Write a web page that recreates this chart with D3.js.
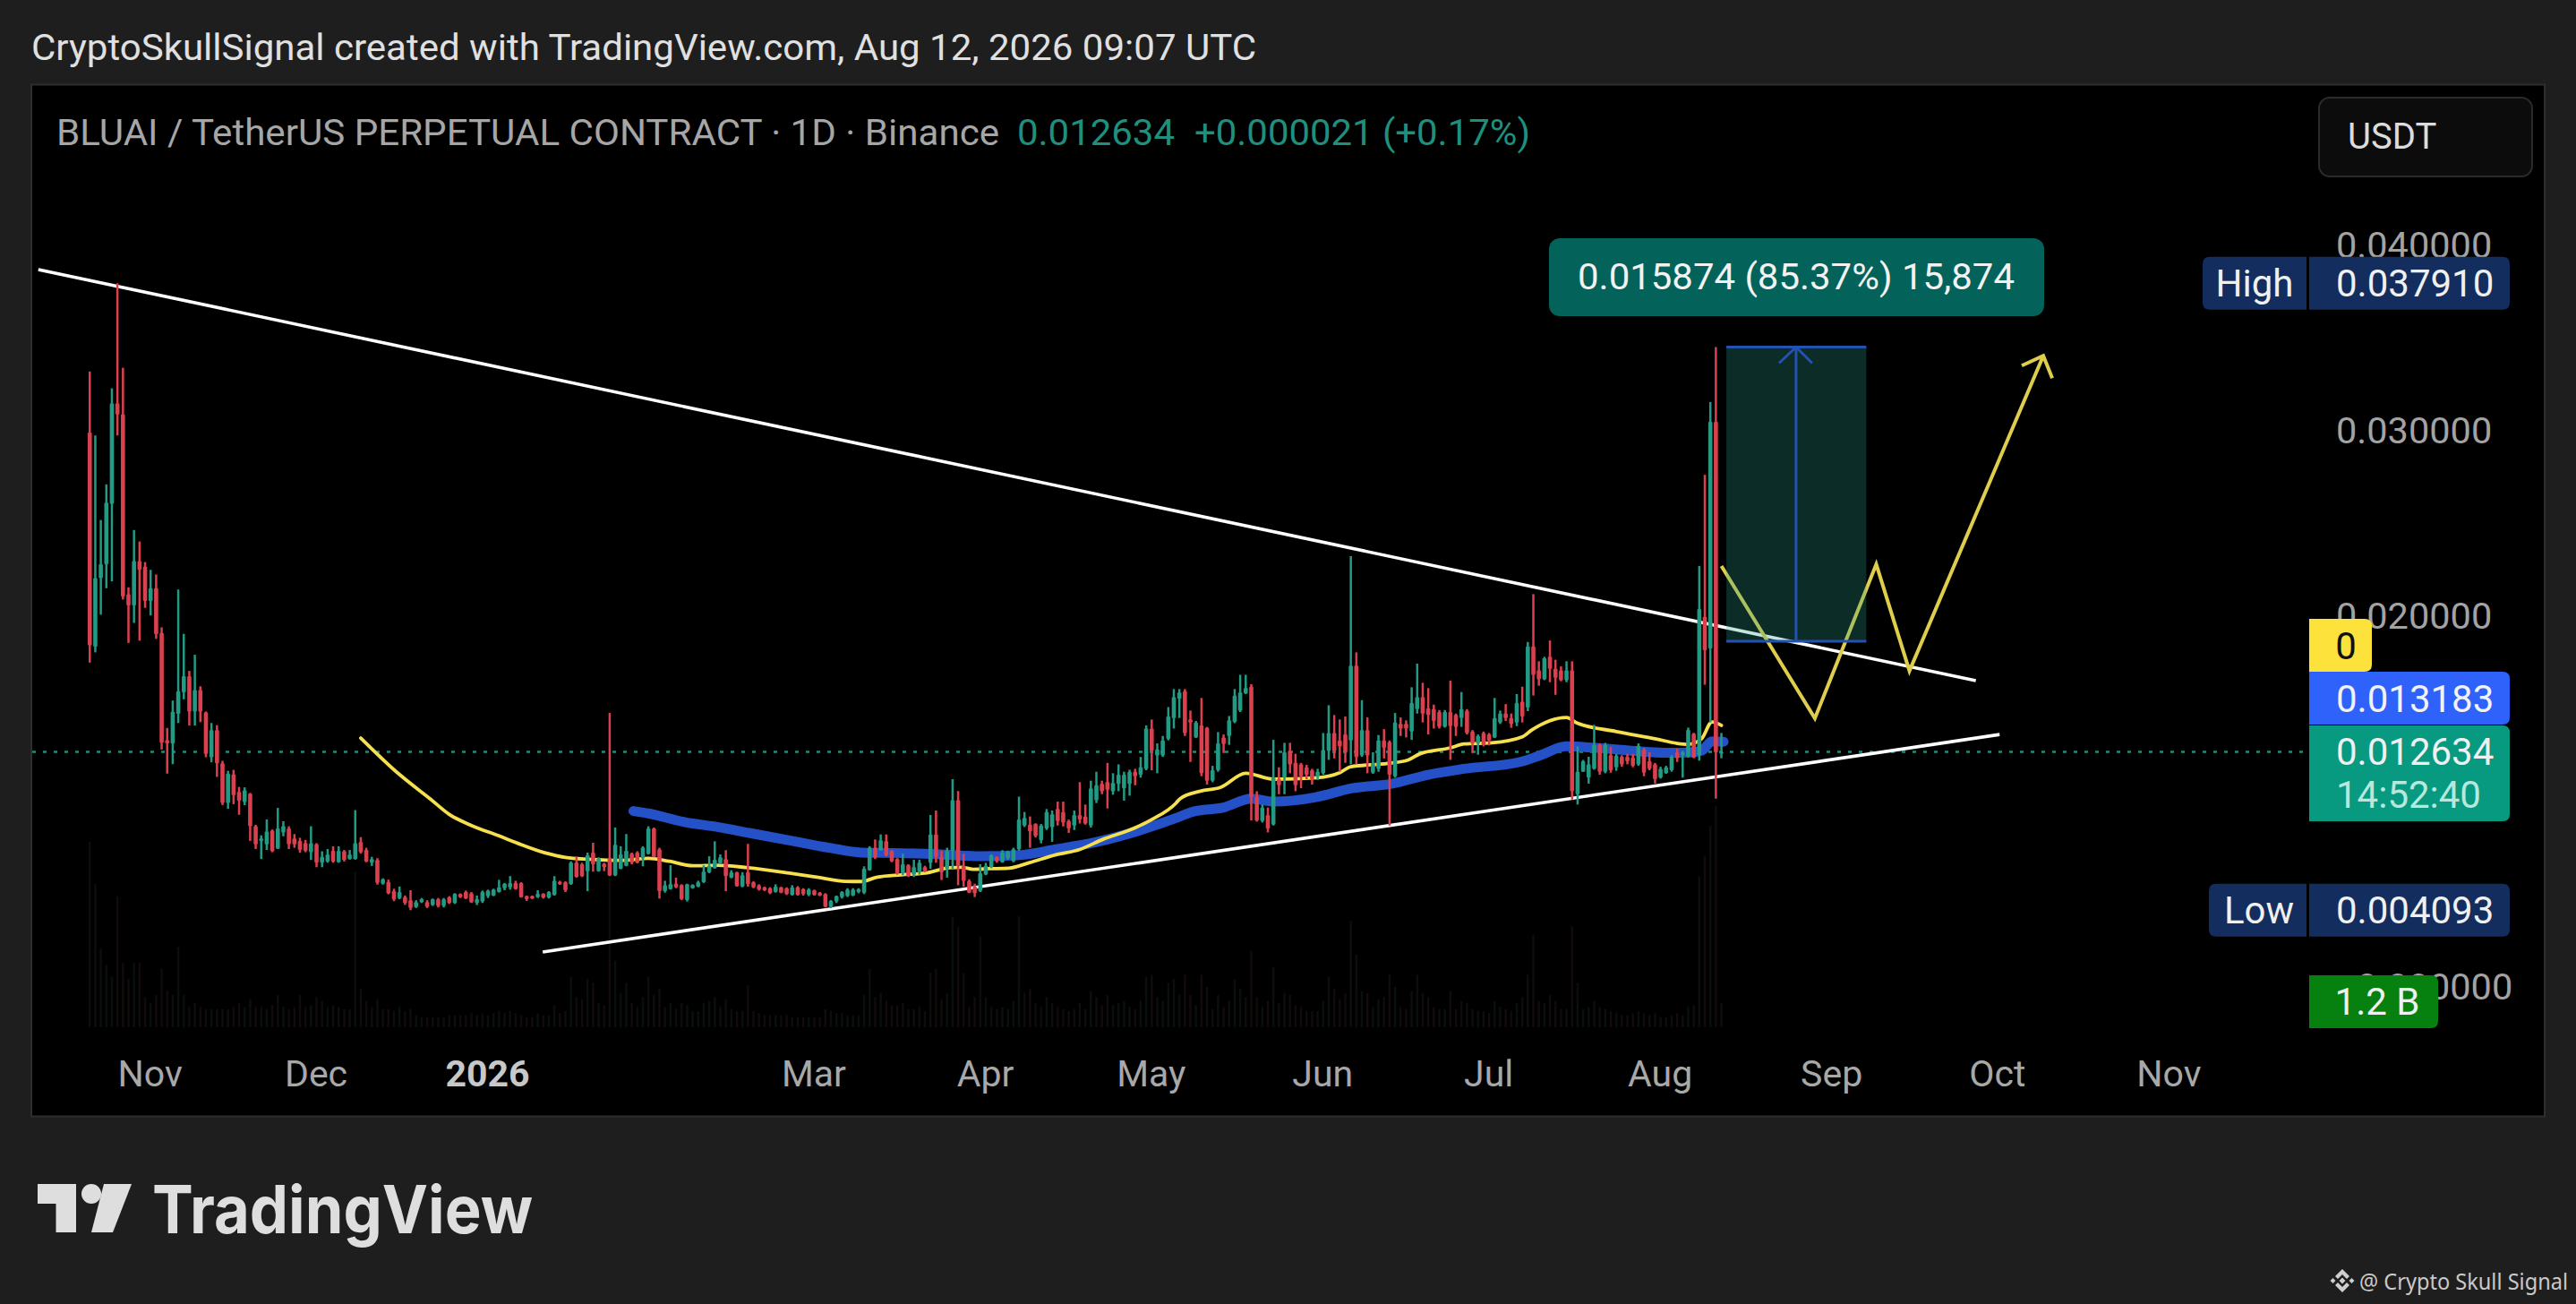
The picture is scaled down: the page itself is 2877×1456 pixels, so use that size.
<!DOCTYPE html>
<html><head><meta charset="utf-8">
<script src="https://cdn.jsdelivr.net/npm/d3@7"></script>
<style>html,body{margin:0;padding:0;background:#1e1e1e;overflow:hidden}svg{display:block}text{font-family:Roboto,sans-serif}</style>
</head><body><svg id="c" width="2877" height="1456"></svg>
<script>
// Daily candles from 2025-10-21, prices in thousandths of USDT
const firstDay = Date.UTC(2025, 9, 21);
const open = [29.85,18.31,22.01,22.75,26.02,31.42,30.83,21.14,20.53,22.92,
22.62,20.77,21.46,19.05,13.26,13.09,14.69,15.84,16.71,14.81,
15.97,14.76,12.34,13.80,12.02,9.88,11.41,10.47,9.93,10.37,
8.62,7.83,7.64,8.38,7.42,8.28,8.50,7.96,7.83,7.71,
7.22,7.64,6.65,6.72,7.29,6.68,7.27,6.85,6.85,7.76,
7.34,6.65,6.80,5.52,5.62,5.12,4.73,4.80,4.63,4.26,
4.53,4.53,4.37,4.69,4.32,4.80,4.48,4.96,5.07,5.0,
4.48,4.56,4.85,4.88,5.07,5.28,5.33,5.56,5.56,4.85,
4.85,4.8,4.98,4.77,4.91,5.62,5.6,5.49,6.65,6.57,
6.2,7.2,6.2,6.6,6.9,5.97,6.33,6.49,7.14,7.2,
6.9,7.14,8.5,7.38,5.12,5.23,5.52,5.46,4.64,5.28,
5.36,5.6,6.14,6.36,6.62,6.85,5.85,6.14,5.36,6.14,
5.6,5.44,5.33,5.28,5.07,5.33,5.28,4.91,5.33,5.23,
4.91,5.17,5.04,4.96,4.27,4.56,4.8,4.85,4.88,5.07,
5.04,6.25,7.46,7.33,7.81,7.3,6.85,6.09,6.52,6.01,
6.17,6.41,6.65,8.18,6.97,6.33,7.3,10.03,6.49,5.68,
5.36,5.12,6.01,6.41,6.97,6.68,6.9,6.73,7.38,8.66,
8.71,8.74,7.86,8.5,8.58,9.55,9.39,8.9,8.66,9.22,
9.14,8.66,10.03,10.91,11.0,10.51,10.91,10.67,10.91,11.56,
11.4,11.72,13.89,12.44,12.44,13.33,14.46,15.5,15.91,14.38,
13.41,14.06,13.93,11.08,11.64,13.41,13.49,14.25,14.86,15.79,
16.15,10.19,8.9,9.22,8.71,11.16,11.24,12.69,12.04,11.96,
11.8,11.64,11.32,11.48,12.69,13.65,13.25,13.57,13.25,17.28,
12.44,13.81,11.51,11.72,13.25,13.17,11.32,14.14,14.14,13.73,
14.94,15.58,14.97,14.94,14.78,13.98,14.78,14.62,14.46,14.86,
13.73,13.09,13.65,13.57,13.41,14.22,14.7,14.46,14.22,15.34,
15.02,18.32,17.03,16.55,17.76,17.11,17.03,16.5,17.03,10.35,
11.56,11.24,11.72,13.01,11.56,12.45,11.8,12.37,12.37,12.32,
11.96,12.77,12.13,11.96,11.24,11.48,11.64,12.61,12.45,12.37,
13.61,12.45,19.92,18.21,30.43,12.61];
const high = [33.15,29.70,25.14,27.06,32.24,37.91,33.35,21.51,24.60,23.98,
22.87,22.45,22.20,19.35,13.92,15.40,21.39,19.0,17.0,17.87,
16.17,14.81,14.19,14.07,12.15,11.61,11.66,10.74,10.72,10.42,
8.70,8.13,8.99,8.45,9.61,8.89,8.62,8.20,8.0,7.88,
8.62,7.71,7.27,7.39,7.54,7.54,7.34,7.34,9.49,8.03,
7.46,6.97,6.90,5.81,5.74,5.25,5.37,4.88,5.17,4.63,
4.75,4.63,4.72,4.75,4.75,4.85,5.01,5.0,5.15,5.07,
4.88,5.15,5.2,5.25,5.73,5.56,5.93,5.68,5.6,4.88,
4.88,5.17,5.01,5.12,5.93,5.68,5.65,6.73,6.97,6.65,
7.2,7.73,6.94,6.65,14.73,8.55,7.54,8.2,7.2,7.27,
7.54,8.62,8.55,7.46,5.68,6.52,5.85,5.49,5.52,5.49,
5.68,6.52,7.0,7.81,7.1,7.33,6.25,6.17,6.14,7.67,
5.65,5.49,5.36,5.33,5.49,5.36,5.33,5.44,5.39,5.28,
5.28,5.2,5.07,5.01,4.64,4.88,5.12,5.28,5.28,5.28,
6.46,7.54,7.91,8.18,8.18,7.33,6.9,7.14,6.57,6.81,
6.81,6.49,9.23,9.47,7.3,7.46,11.16,10.52,7.14,5.76,
5.52,6.57,6.65,7.1,7.0,7.33,7.3,7.46,10.22,9.39,
9.15,8.78,8.74,9.55,9.47,9.95,9.95,8.98,9.47,11.0,
9.79,11.08,11.56,11.08,12.04,11.48,11.96,11.56,11.67,11.72,
12.36,14.06,14.38,13.09,13.49,15.05,16.02,16.02,16.02,14.86,
14.3,15.54,13.98,11.88,13.7,13.57,14.57,16.02,16.79,16.79,
16.28,10.51,9.79,9.63,13.28,11.8,13.12,13.12,12.53,12.04,
11.93,11.72,11.72,13.65,15.15,14.62,14.38,14.54,23.19,18.0,
15.42,14.49,12.61,13.54,13.86,13.25,14.73,14.49,14.33,16.12,
17.39,16.36,16.07,15.18,14.89,14.89,16.47,14.7,15.86,14.94,
13.81,13.57,13.73,13.65,15.54,14.86,15.21,14.7,15.75,16.15,
18.56,21.14,17.52,17.76,18.64,17.6,17.24,17.52,17.52,12.93,
12.2,12.37,14.09,13.09,13.12,12.9,12.53,12.45,12.53,12.53,
13.09,12.85,12.61,12.04,11.83,11.88,12.45,12.8,12.69,13.94,
13.66,22.66,27.58,31.5,34.47,13.65];
const low = [17.45,18.0,20.03,21.46,21.83,29.70,20.85,18.51,19.59,18.63,
20.40,19.99,18.73,12.76,11.46,11.97,14.19,15.47,14.05,14.05,
14.24,12.34,12.07,11.28,9.76,9.56,9.81,9.24,9.76,7.83,
7.39,6.85,7.34,7.22,7.39,8.08,7.39,7.46,7.19,7.22,
6.80,6.41,6.41,6.65,6.65,6.65,6.72,6.82,6.82,7.15,
6.68,6.48,5.47,5.47,4.95,4.58,4.68,4.38,4.09,4.21,
4.48,4.21,4.32,4.24,4.24,4.43,4.43,4.75,4.69,4.48,
4.37,4.48,4.75,4.85,5.04,5.17,5.2,5.2,4.77,4.59,
4.69,4.75,4.72,4.72,4.88,5.46,5.07,5.46,5.85,5.88,
5.12,6.17,6.17,6.2,5.93,5.93,6.3,6.46,6.57,6.62,
6.46,7.1,6.94,4.72,5.04,5.2,5.28,4.64,4.56,5.25,
5.33,5.56,6.09,6.33,6.57,5.12,5.81,5.36,5.33,5.36,
5.28,5.15,5.12,4.96,5.04,5.01,4.91,4.88,4.88,4.88,
4.85,4.88,4.85,4.24,4.2,4.48,4.72,4.8,4.85,5.0,
4.96,6.22,6.85,7.3,7.0,6.68,6.01,5.98,5.88,5.88,
6.01,6.14,6.33,6.65,5.72,5.85,6.33,5.44,5.36,5.01,
4.8,5.07,5.98,6.36,6.65,6.65,6.81,6.68,7.3,8.58,
7.46,8.02,7.7,8.42,7.78,8.66,8.61,8.26,8.42,8.77,
8.71,8.55,9.87,10.35,9.58,10.32,10.51,10.0,10.27,10.83,
11.24,11.64,11.64,11.48,12.36,13.25,13.89,14.46,13.49,12.09,
13.38,11.32,10.87,11.0,11.56,12.57,13.01,14.18,14.78,15.75,
8.93,8.87,8.82,8.29,8.66,10.35,10.35,11.48,10.51,10.67,
11.16,10.87,11.12,11.4,12.2,12.28,11.56,12.04,11.96,11.96,
12.36,11.48,11.45,11.56,12.28,8.66,11.24,13.49,13.41,13.28,
14.7,14.22,13.57,13.89,13.89,13.94,12.2,13.49,13.98,13.57,
12.57,12.48,12.93,12.98,13.38,14.14,14.3,13.93,14.02,14.22,
14.83,15.67,16.2,16.5,16.39,15.71,16.44,16.39,10.06,9.79,
11.56,10.92,11.67,11.4,11.48,11.51,11.61,11.83,11.96,11.8,
11.88,11.32,11.64,10.92,11.19,11.45,11.56,12.09,11.24,12.32,
12.29,12.16,16.25,14.22,10.11,12.29];
const close = [18.38,22.01,22.75,26.07,31.42,30.83,21.02,20.53,22.92,22.45,
20.77,21.46,18.99,13.13,13.09,14.79,15.89,16.71,14.81,15.97,
14.81,12.52,13.80,12.02,9.88,11.46,10.30,10.0,10.55,8.62,
7.64,7.96,8.33,7.27,8.50,8.62,7.64,7.64,7.34,7.29,
7.71,6.65,6.97,7.09,6.72,7.29,6.80,7.09,7.71,7.22,
6.72,6.85,5.57,5.76,5.0,4.68,5.07,4.48,4.21,4.53,
4.68,4.28,4.69,4.32,4.69,4.48,4.98,4.80,4.72,4.52,
4.69,5.07,5.15,5.2,5.33,5.52,5.56,5.23,4.8,4.69,
4.72,4.98,4.77,5.07,5.68,5.49,5.17,6.65,5.88,5.93,
7.05,6.57,6.9,6.41,5.97,7.62,7.1,7.3,6.65,6.65,
7.46,8.5,6.97,5.12,5.44,5.49,5.33,4.69,5.49,5.46,
5.6,6.17,6.49,6.81,6.94,5.93,6.14,5.39,5.98,5.49,
5.33,5.2,5.17,5.01,5.36,5.04,4.96,5.33,4.91,4.96,
5.2,4.91,4.88,4.27,4.59,4.85,5.07,5.2,5.2,5.23,
6.33,7.46,6.94,7.86,7.05,6.73,6.09,6.57,5.93,6.41,
6.65,6.2,8.18,6.97,6.14,7.3,10.03,6.49,5.68,5.04,
5.01,6.09,6.49,7.05,6.73,7.2,7.25,7.38,8.98,9.07,
8.34,8.1,8.66,9.39,9.26,8.9,8.82,8.5,9.22,8.98,
8.77,10.67,10.83,10.51,10.59,10.96,11.4,11.4,11.56,11.32,
11.8,13.89,12.69,12.77,13.25,14.54,15.58,15.83,13.65,14.22,
14.22,11.48,11.08,11.64,13.09,13.06,14.34,15.67,15.83,16.07,
10.19,8.93,9.63,8.5,11.24,10.83,12.61,11.96,10.83,11.32,
11.4,11.16,11.56,12.73,13.65,12.69,12.93,12.61,17.28,12.36,
13.81,12.44,12.04,13.25,12.85,11.4,14.22,13.89,13.89,15.26,
15.58,14.7,14.62,14.3,13.98,14.78,14.02,13.98,14.94,13.65,
13.09,13.49,13.01,13.25,14.46,14.7,14.46,14.14,15.26,14.54,
18.32,16.79,16.55,17.68,17.11,16.63,16.5,17.03,10.51,11.56,
12.13,11.96,13.01,11.56,13.01,11.64,12.42,11.96,12.13,11.88,
12.96,11.51,11.72,11.16,11.72,11.8,12.37,12.29,12.6,13.82,
12.32,20.34,18.12,30.43,12.61,12.634];
// Volume, billions
const volume = [9.2,7.1,3.9,3.1,2.5,6.5,3.2,2.4,3.2,3.2,
1.5,1.2,1.6,2.9,1.8,1.6,4.0,1.6,1.0,1.2,
1.0,.9,.9,.9,.9,.9,1.0,1.2,1.0,1.4,
1.0,1.0,.9,1.1,1.6,1.0,.9,1.0,1.6,1.0,
1.1,1.5,1.3,1.0,1.1,1.0,.9,.9,7.7,1.9,
1.3,1.0,1.4,.9,.9,.8,1.0,.8,.9,.6,
.5,.5,.5,.5,.5,.6,.6,.6,.6,.7,
.6,.7,.6,.7,.8,.7,.8,.7,.6,.5,
.5,.7,.6,.6,1.1,.7,.8,2.5,1.5,1.4,
2.4,2.2,1.2,1.1,7.4,3.3,1.7,2.2,1.2,1.0,
1.5,2.5,1.6,1.9,1.0,1.2,.9,1.2,1.1,.8,
.8,1.2,1.3,1.5,1.0,1.4,.9,.8,.8,2.1,
.8,.7,.6,.6,.6,.6,.6,.5,.5,.5,
.5,.5,.5,.9,.8,.7,.7,.6,.6,.6,
1.6,2.9,1.5,1.7,1.3,1.1,1.1,1.2,.9,.9,
1,.8,2.7,2.9,1.4,1.7,5.5,5.0,2.7,1.0,
1.5,4.5,1.5,1.0,.9,1.0,.9,1.3,5.5,1.7,
1.9,1.2,1.0,1.5,1.2,1.0,.9,.8,.9,1.2,
.9,1.8,1.5,1.1,1.6,1.1,1.2,1.3,1.0,.9,
1.3,2.5,2.6,1.5,1.3,2.2,2.4,1.6,2.6,1.6,
1.1,2.6,2.0,.9,1.6,1.0,1.3,2.4,1.9,1.5,
3.8,1.5,1.0,1.3,3.0,1.2,1.7,1.6,1.1,1.0,
.8,.8,.8,1.3,2.5,1.9,1.4,1.7,5.3,3.6,
1.8,1.7,1.0,1.4,1.5,2.6,2.0,1.0,.9,1.8,
2.6,1.7,1.5,1.0,.9,.9,1.8,.9,1.3,1.2,
.9,.8,.8,.7,1.3,1.0,.9,.8,1.2,1.5,
2.6,4.6,1.3,1.2,1.6,1.3,.9,.9,5.0,2.2,
.9,1.0,1.3,1.0,.9,.8,.7,.6,.6,.7,
.8,.7,.6,.7,.5,.5,.6,.7,.6,1.0,
1.1,7.5,8.5,10,11,1.2];
// Moving averages: candle number and price at knots
const yellowDay = [49,56,61.5,65,69,74,77.4,82.4,86,90.3,96,101,104.8,109,113.6,119,126.5,132,136.6,139.5,142.4,146.7,151,155.4,157.6,159.7,162.6,166.2,169.8,174.7,179,183.4,187.8,192,196.4,197.1,200.8,204.4,209,214,222,226,228,234.7,238.4,240.5,246,248.5,253.5,259,260.7,267,268.7,276,283.2,287,289,291.4,293.3,295];
const yellowVal = [13.38,11.41,10.11,9.26,8.66,8.1,7.7,7.18,6.94,6.84,6.78,6.89,6.73,6.49,6.52,6.38,6.09,5.85,5.65,5.64,5.88,6.0,6.09,6.38,6.41,6.3,6.33,6.36,6.65,7.08,7.37,7.94,8.39,8.98,9.87,10.1,10.51,10.71,11.48,11.16,11.24,11.51,11.83,12.01,12.2,12.53,12.85,13.06,13.12,13.44,13.81,14.49,14.22,13.73,13.33,13.09,13.04,13.33,14.25,14.06];
const blueDay = [98.3,101,107.7,113.5,119.2,126.5,133.7,139.5,145.3,153.9,161.2,167.6,174.7,182,189.2,196.4,199.3,205,210,214,221.7,228.2,235.4,242,248.5,258.6,262.2,267,272.3,285.5,289.5,291.4,293.3,295.4];
const blueVal = [9.44,9.31,8.83,8.58,8.26,7.86,7.46,7.2,7.18,7.1,7.0,7.05,7.38,7.77,8.34,9.06,9.39,9.63,10.11,9.95,10.19,10.67,10.91,11.4,11.72,12.09,12.44,12.93,12.85,12.58,12.61,12.69,13.2,13.18];
// Drawn trend lines (candle number, price)
const upperLineDay = [-9.3,341], upperLineVal = [38.65,16.47];
const lowerLineDay = [81.9,345.3], lowerLineVal = [1.84,13.57];
// Yellow projection path
const pathDay = [295,311.9,323,329,353.2];
const pathVal = [22.66,14.44,22.75,17.0,34.0];
// Measured move
const moveLow = 18.594, moveHigh = 34.468, moveDay = [295.9,321.2], moveMid = 308.5;
const moveLabel = "0.015874 (85.37%) 15,874";
// Axes
const priceTicks = [40,30,20,0];
const monthTicks = [[2025,10,"Nov"],[2025,11,"Dec"],[2026,0,"2026"],[2026,2,"Mar"],[2026,3,"Apr"],[2026,4,"May"],[2026,5,"Jun"],[2026,6,"Jul"],[2026,7,"Aug"],[2026,8,"Sep"],[2026,9,"Oct"],[2026,10,"Nov"]];
const lastPrice = 12.634, highPrice = 37.91, lowPrice = 4.093;

const svg = d3.select("#c");
const W = 2877, H = 1456;
const day = 864e5;
const xTime = d3.scaleUtc().domain([new Date(Date.UTC(2025,10,1)), new Date(Date.UTC(2026,10,1))]).range([168.2,2422.9]);
const x = i => xTime(new Date(firstDay + i*day));
const y = d3.scaleLinear().domain([0,40]).range([1101,273]);
const yVol = d3.scaleLinear().domain([0,1.2]).range([1147,1120]);

svg.append("rect").attr("width",W).attr("height",H).attr("fill","#1e1e1e");
svg.append("rect").attr("x",35).attr("y",94.5).attr("width",2807).attr("height",1152).attr("fill","#000").attr("stroke","#2e2e2e").attr("stroke-width",2);

// title texts
function T(g,s,px,py,size,fill,opt={}){
  const t=g.append("text").attr("x",px).attr("y",py).attr("font-size",size).attr("fill",fill).attr("dominant-baseline","central").text(s);
  if(opt.anchor)t.attr("text-anchor",opt.anchor);
  if(opt.weight)t.attr("font-weight",opt.weight);
  if(opt.len)t.attr("textLength",opt.len).attr("lengthAdjust","spacingAndGlyphs");
  if(opt.family)t.style("font-family",opt.family);
  return t;
}
T(svg,"CryptoSkullSignal created with TradingView.com, Aug 12, 2026 09:07 UTC",35,53,40,"#e0e0e0",{len:1368});
T(svg,"BLUAI / TetherUS PERPETUAL CONTRACT · 1D · Binance",63,148,40,"#a6a6a6",{len:1053});
T(svg,"0.012634",1136,148,40,"#1f8f7e",{len:176});
T(svg,"+0.000021 (+0.17%)",1334,148,40,"#1f8f7e",{len:375});

svg.append("rect").attr("x",2590).attr("y",109).attr("width",238).attr("height",88).attr("rx",12).attr("fill","#0c0c0c").attr("stroke","#2b2b2b").attr("stroke-width",2);
T(svg,"USDT",2622,152,40,"#dcdcdc");

// last price line
svg.append("line").attr("x1",36).attr("x2",2575).attr("y1",y(lastPrice)).attr("y2",y(lastPrice))
  .attr("stroke","#1d8c7b").attr("stroke-width",2.5).attr("stroke-dasharray","4 8");

// volume
svg.append("g").selectAll("rect").data(volume).join("rect")
  .attr("x",(d,i)=>x(i)-1.25).attr("width",2.5)
  .attr("y",d=>yVol(d)).attr("height",d=>1147-yVol(d))
  .attr("fill",(d,i)=>close[i]>=open[i]?"#0a0f0e":"#110b0b");

// MAs
const line=d3.line().x(d=>x(d[0])).y(d=>y(d[1])).curve(d3.curveMonotoneX);
svg.append("path").attr("d",line(blueDay.map((d,i)=>[d,blueVal[i]]))).attr("fill","none").attr("stroke","#2450c8").attr("stroke-width",11).attr("stroke-linecap","round");
svg.append("path").attr("d",line(yellowDay.map((d,i)=>[d,yellowVal[i]]))).attr("fill","none").attr("stroke","#f6e04e").attr("stroke-width",3.8).attr("stroke-linecap","round");

// trend lines
[[upperLineDay,upperLineVal],[lowerLineDay,lowerLineVal]].forEach(([a,b])=>{
  svg.append("line").attr("x1",x(a[0])).attr("y1",y(b[0])).attr("x2",x(a[1])).attr("y2",y(b[1])).attr("stroke","#fff").attr("stroke-width",3.6);
});

// candles
const upC="#229a84", dnC="#da404e";
const cg=svg.append("g");
const idx=d3.range(open.length);
cg.selectAll("rect.w").data(idx).join("rect").attr("class","w")
  .attr("x",i=>x(i)-1.25).attr("width",2.5).attr("y",i=>y(high[i])).attr("height",i=>y(low[i])-y(high[i]))
  .attr("fill",i=>close[i]>=open[i]?upC:dnC);
cg.selectAll("rect.b").data(idx).join("rect").attr("class","b")
  .attr("x",i=>x(i)-2.3).attr("width",4.6).attr("y",i=>y(Math.max(open[i],close[i])))
  .attr("height",i=>Math.max(2,Math.abs(y(open[i])-y(close[i])))).attr("rx",1)
  .attr("fill",i=>close[i]>=open[i]?upC:dnC);

// yellow projection
const pl=d3.line().x(d=>x(d[0])).y(d=>y(d[1]));
const pathPts=pathDay.map((d,i)=>[d,pathVal[i]]);
svg.append("path").attr("d",pl(pathPts)).attr("fill","none").attr("stroke","#dfcd4c").attr("stroke-width",4).attr("stroke-linejoin","miter");
const tip=pathPts[pathPts.length-1];
svg.append("path").attr("d",`M${x(tip[0])-24},${y(tip[1])+11}L${x(tip[0])},${y(tip[1])}L${x(tip[0])+10},${y(tip[1])+25}`).attr("fill","none").attr("stroke","#dfcd4c").attr("stroke-width",4);

// measured move box
const bx0=x(moveDay[0]),bx1=x(moveDay[1]),mx=x(moveMid),yT=y(moveHigh),yB=y(moveLow);
svg.append("rect").attr("x",bx0).attr("y",yT).attr("width",bx1-bx0).attr("height",yB-yT).attr("fill","#2a9d8f").attr("opacity",.28);
[yT,yB].forEach(v=>svg.append("line").attr("x1",bx0).attr("x2",bx1).attr("y1",v).attr("y2",v).attr("stroke","#2452b0").attr("stroke-width",3));
svg.append("line").attr("x1",mx).attr("x2",mx).attr("y1",yT).attr("y2",yB).attr("stroke","#2452b0").attr("stroke-width",3);
svg.append("path").attr("d",`M${mx-19},${yT+18}L${mx},${yT}L${mx+18},${yT+18}`).attr("fill","none").attr("stroke","#2452b0").attr("stroke-width",3);
svg.append("rect").attr("x",1730).attr("y",266).attr("width",553).attr("height",87).attr("rx",12).attr("fill","#03635a");
T(svg,moveLabel,2006,309,40,"#f2f2f2",{anchor:"middle",len:488});

// price axis
const yAxis=d3.axisRight(y).tickValues(priceTicks).tickSize(0).tickPadding(0).tickFormat(d=>(d/1000).toFixed(6));
const ga=svg.append("g").attr("transform","translate(2609,0)").call(yAxis);
ga.select(".domain").remove();
ga.selectAll("text").attr("font-size",41.5).attr("fill","#a3a3a3").attr("dy",null).attr("dominant-baseline","central").style("font-family","Roboto,sans-serif")
  .attr("x",d=>d===0?23:0);

// time axis
const mDates=monthTicks.map(m=>new Date(Date.UTC(m[0],m[1],1)));
const mLabels=new Map(mDates.map((d,i)=>[+d,monthTicks[i][2]]));
const xAxis=d3.axisBottom(xTime).tickValues(mDates).tickSize(0).tickPadding(0).tickFormat(d=>mLabels.get(+d));
const gx=svg.append("g").attr("transform","translate(-1,1199)").call(xAxis);
gx.select(".domain").remove();
gx.selectAll("text").attr("font-size",41).attr("dy",null).attr("y",0).attr("dominant-baseline","central").style("font-family","Roboto,sans-serif")
  .attr("font-weight",d=>mLabels.get(+d)==="2026"?700:400).attr("fill",d=>mLabels.get(+d)==="2026"?"#c8c8c8":"#a8a8a8");

// tags
function rr(x0,y0,x1,y1,l,r){ // l,r corner radii for left and right sides
  return `M${x0+l},${y0}L${x1-r},${y0}Q${x1},${y0} ${x1},${y0+r}L${x1},${y1-r}Q${x1},${y1} ${x1-r},${y1}L${x0+l},${y1}Q${x0},${y1} ${x0},${y1-l}L${x0},${y0+l}Q${x0},${y0} ${x0+l},${y0}Z`;
}
function tag(x0,x1,y0,y1,fill,l,r){svg.append("path").attr("d",rr(x0,y0,x1,y1,l,r)).attr("fill",fill);}
const navy="#132d5e", tagSize=42;
const yh=y(highPrice), yl=y(lowPrice);
tag(2460,2576,yh-29.5,yh+29.5,navy,8,0); tag(2579,2803,yh-29.5,yh+29.5,navy,0,8);
T(svg,"High",2518,yh,tagSize,"#f0f0f0",{anchor:"middle"});
T(svg,"0.037910",2609,yh,tagSize,"#f0f0f0");
tag(2467,2576,yl-29.5,yl+29.5,navy,8,0); tag(2579,2803,yl-29.5,yl+29.5,navy,0,8);
T(svg,"Low",2523,yl,tagSize,"#f0f0f0",{anchor:"middle"});
T(svg,"0.004093",2609,yl,tagSize,"#f0f0f0");
tag(2579,2649,691,750,"#fde23c",0,8);
T(svg,"0",2620,721,tagSize,"#111",{anchor:"middle"});
tag(2579,2803,750,809,"#2e62fb",0,8);
T(svg,"0.013183",2609,780,tagSize,"#f2f2f2");
tag(2579,2803,810,917,"#089981",0,8);
T(svg,"0.012634",2609,839.5,tagSize,"#f0f0f0");
T(svg,"14:52:40",2609,887,tagSize,"#b6e8de");
tag(2579,2723,1089,1148,"#06800f",0,8);
T(svg,"1.2 B",2655,1118,tagSize,"#f0f0f0",{anchor:"middle"});

// TradingView logo
const lg=svg.append("g").attr("fill","#dedede");
lg.append("path").attr("d","M42,1322H85V1376H62.5V1344H42Z");
lg.append("circle").attr("cx",102).attr("cy",1333).attr("r",11);
lg.append("path").attr("d","M116,1322H147L126,1376H102Z");
T(svg,"TradingView",170,1350,74,"#dedede",{weight:700,len:425,family:"Inter,sans-serif"});

// watermark
const bn=svg.append("g").attr("fill","#cfcfcf").attr("transform","translate(2616,1430)");
bn.append("path").attr("d","M-8,-5L0,-13L8,-5L5,-2L0,-7L-5,-2Z");
bn.append("path").attr("d","M-8,5L0,13L8,5L5,2L0,7L-5,2Z");
bn.append("path").attr("d","M0,-3.5L3.5,0L0,3.5L-3.5,0Z");
bn.append("path").attr("d","M-13.5,0L-10.5,-3L-7.5,0L-10.5,3Z");
bn.append("path").attr("d","M13.5,0L10.5,-3L7.5,0L10.5,3Z");
T(svg,"@ Crypto Skull Signal",2635,1430,26,"#c9c9c9",{len:233,family:"'Noto Sans',sans-serif"});
</script></body></html>
